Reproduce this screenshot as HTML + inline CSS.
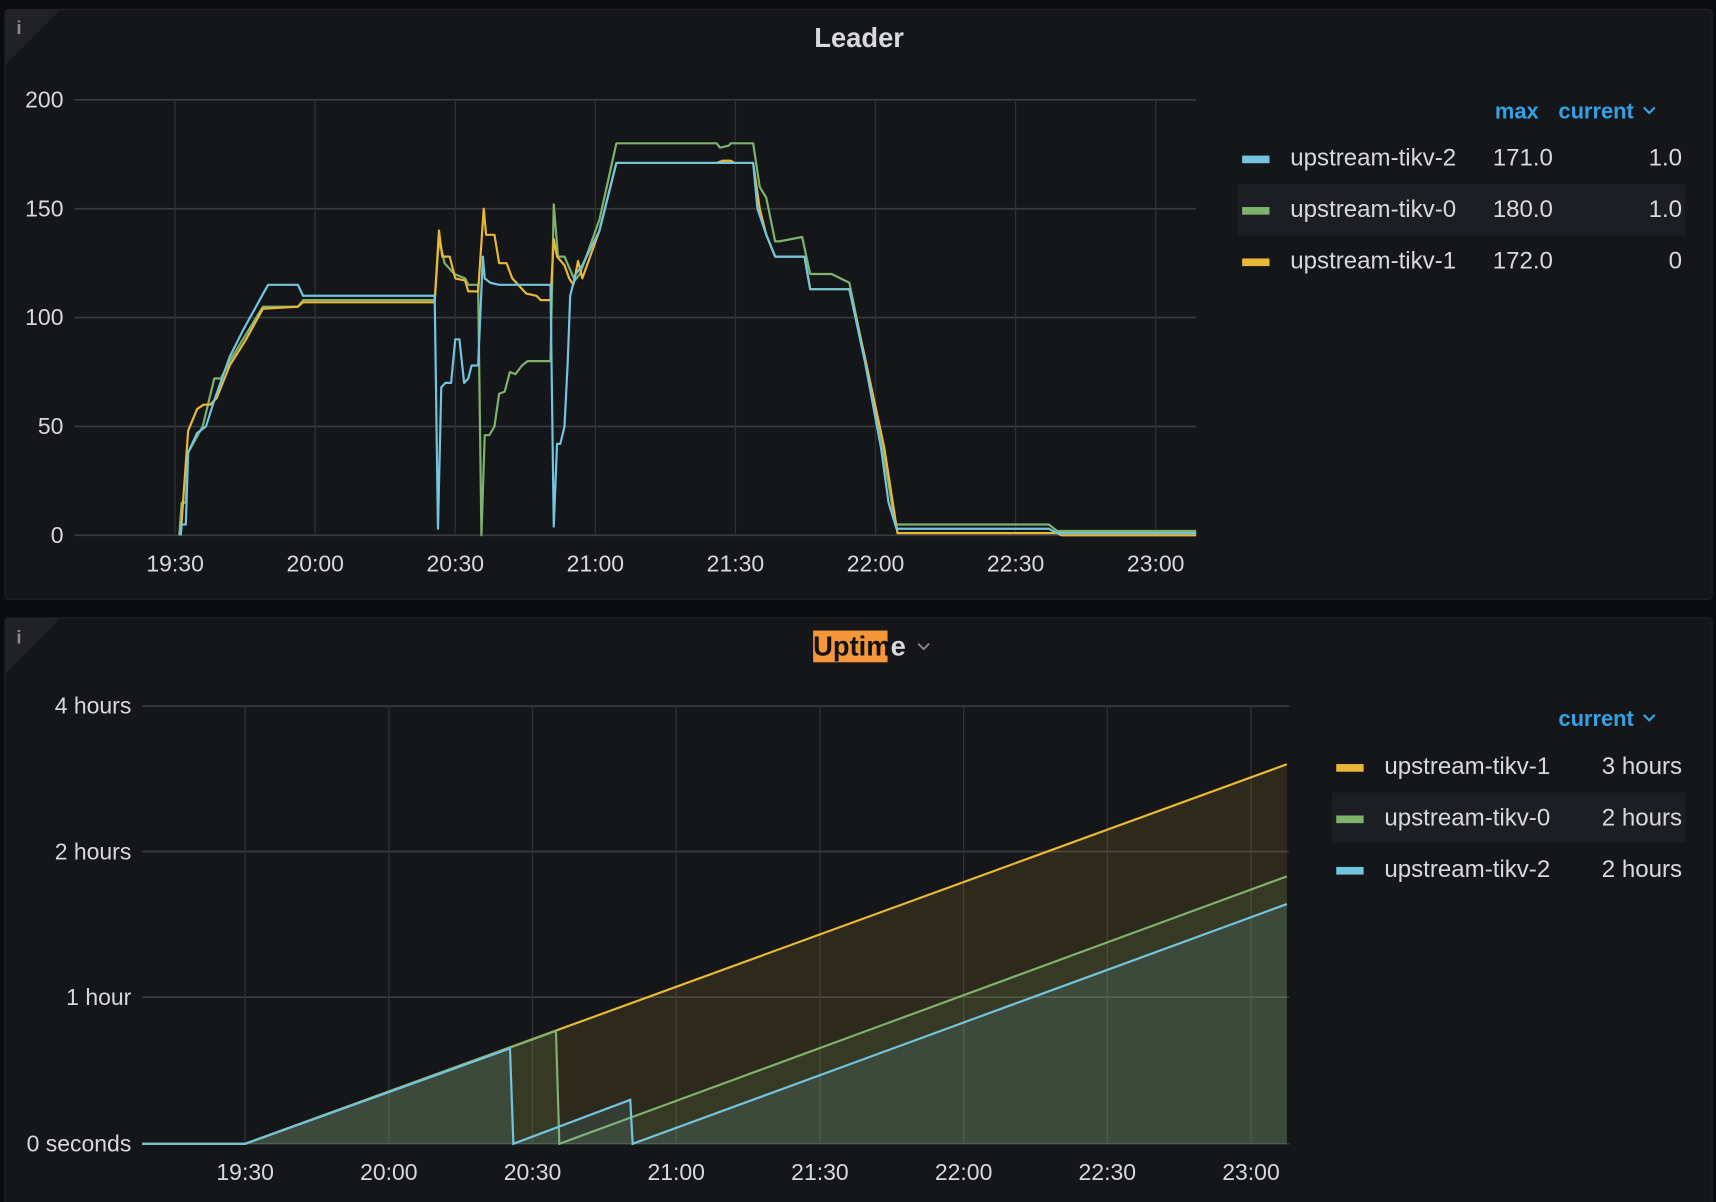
<!DOCTYPE html>
<html><head><meta charset="utf-8">
<style>
html,body{margin:0;padding:0;background:#0b0c0e;}
svg{display:block;font-family:"Liberation Sans",sans-serif;}
</style></head>
<body>
<svg id="root" width="1716" height="1202" viewBox="0 0 1568 1098">
  <rect x="0" y="0" width="1568" height="1098" fill="#0b0c0e"/>
  <g>
    <rect x="4.5" y="8.5" width="1560" height="539" rx="3" fill="#141619" stroke="#202226"/>
    <path d="M5 9 L55 9 L5 59 Z" fill="#202226"/>
    <text x="15" y="31" fill="#8e8e8e" font-size="17" font-weight="bold">i</text>
    <text x="785" y="43" fill="#d8d9da" font-size="25" font-weight="bold" text-anchor="middle">Leader</text>
    <g id="g1grid"></g>
    <g id="g1lines"></g>
    <g>
      <text x="1406" y="108" fill="#33a2e5" font-size="20" font-weight="bold" text-anchor="end">max</text>
      <text x="1424" y="108" fill="#33a2e5" font-size="20" font-weight="bold">current</text>
      <path d="M1502 98 l5 5 l5 -5" stroke="#33a2e5" stroke-width="2" fill="none"/>
      <rect x="1131" y="168" width="409" height="47" fill="#1c1e23"/>
      <g>
        <rect x="1135" y="142" width="25" height="7" fill="#73c4df"/>
        <text x="1179" y="151" fill="#d8d9da" font-size="22">upstream-tikv-2</text>
        <text x="1419" y="151" fill="#d8d9da" font-size="22" text-anchor="end">171.0</text>
        <text x="1537" y="151" fill="#d8d9da" font-size="22" text-anchor="end">1.0</text>
      </g>
      <g>
        <rect x="1135" y="189" width="25" height="7" fill="#7eb26d"/>
        <text x="1179" y="198" fill="#d8d9da" font-size="22">upstream-tikv-0</text>
        <text x="1419" y="198" fill="#d8d9da" font-size="22" text-anchor="end">180.0</text>
        <text x="1537" y="198" fill="#d8d9da" font-size="22" text-anchor="end">1.0</text>
      </g>
      <g>
        <rect x="1135" y="236" width="25" height="7" fill="#eab839"/>
        <text x="1179" y="245" fill="#d8d9da" font-size="22">upstream-tikv-1</text>
        <text x="1419" y="245" fill="#d8d9da" font-size="22" text-anchor="end">172.0</text>
        <text x="1537" y="245" fill="#d8d9da" font-size="22" text-anchor="end">0</text>
      </g>
    </g>
  </g>
  <g>
    <rect x="4.5" y="564.5" width="1560" height="540" rx="3" fill="#141619" stroke="#202226"/>
    <path d="M5 565 L55 565 L5 615 Z" fill="#202226"/>
    <text x="15" y="588" fill="#8e8e8e" font-size="17" font-weight="bold">i</text>
    <rect x="743" y="576" width="68" height="29" fill="#f5963a"/>
    <text x="743" y="599" fill="#111" font-size="25" font-weight="bold">Uptim<tspan fill="#d8d9da">e</tspan></text>
    <path d="M839 588 l5 5 l5 -5" stroke="#8e8e8e" stroke-width="1.6" fill="none"/>
    <g id="g2grid"></g>
    <g id="g2lines"></g>
    <g>
      <text x="1424" y="663" fill="#33a2e5" font-size="20" font-weight="bold">current</text>
      <path d="M1502 653 l5 5 l5 -5" stroke="#33a2e5" stroke-width="2" fill="none"/>
      <rect x="1217" y="724" width="323" height="46" fill="#1c1e23"/>
      <g>
        <rect x="1221" y="698" width="25" height="7" fill="#eab839"/>
        <text x="1265" y="707" fill="#d8d9da" font-size="22">upstream-tikv-1</text>
        <text x="1537" y="707" fill="#d8d9da" font-size="22" text-anchor="end">3 hours</text>
      </g>
      <g>
        <rect x="1221" y="745" width="25" height="7" fill="#7eb26d"/>
        <text x="1265" y="754" fill="#d8d9da" font-size="22">upstream-tikv-0</text>
        <text x="1537" y="754" fill="#d8d9da" font-size="22" text-anchor="end">2 hours</text>
      </g>
      <g>
        <rect x="1221" y="792" width="25" height="7" fill="#73c4df"/>
        <text x="1265" y="801" fill="#d8d9da" font-size="22">upstream-tikv-2</text>
        <text x="1537" y="801" fill="#d8d9da" font-size="22" text-anchor="end">2 hours</text>
      </g>
    </g>
  </g>
</svg>
<script>
const timeTickLabels = ["19:30","20:00","20:30","21:00","21:30","22:00","22:30","23:00"];
const timeTickMinutes = [0,30,60,90,120,150,180,210];
const leaderYTicks = [0,50,100,150,200];
const tikv2Times = [1.2,1.4,2.3,2.8,4.7,6.6,8.4,11.7,14.5,19.9,26.3,27.4,55.6,56.3,57.0,57.9,59.1,60.0,60.9,61.9,62.8,63.5,64.9,65.9,66.3,67.5,69.4,80.4,81.1,81.8,82.5,83.4,84.1,84.6,85.8,87.2,90.9,94.5,123.8,124.7,126.6,128.5,134.8,136.0,144.4,147.7,151.2,152.8,154.5,187.1,188.9,218.7];
const tikv2Values = [0,5,5,38,47,50,62,82,94,115,115,110,110,3,68,70,70,90,90,70,72,78,78,128,118,116,115,115,4,42,42,50,80,110,120,124,140,171,171,150,138,128,128,113,113,80,40,15,3,3,1,1];
const tikv0Times = [0.9,1.4,2.3,2.8,5.9,8.4,9.8,11.7,18.8,26.3,27.4,55.6,56.3,56.7,57.7,59.8,62.1,62.8,64.9,65.6,66.3,67.3,68.4,69.4,70.6,71.7,72.9,74.3,75.5,80.4,81.1,82.0,83.4,85.6,86.7,90.9,94.5,116.0,116.7,118.6,119.0,123.8,125.2,126.6,128.5,129.4,134.3,136.0,140.6,144.4,151.2,154.2,187.1,188.9,218.7];
const tikv0Values = [0,15,15,38,50,72,72,80,105,105,108,108,130,135,125,120,118,115,115,0,46,46,50,65,66,75,74,78,80,80,152,128,128,117,120,145,180,180,178,179,180,180,160,155,135,135,137,120,120,116,45,5,5,2,2];
const tikv1Times = [1.2,2.8,4.7,6.1,7.5,8.9,11.7,15.2,18.8,26.3,27.4,55.6,56.5,57.2,58.8,60.0,62.1,62.8,64.9,66.1,66.6,68.4,69.4,71.0,72.2,75.2,77.4,78.3,80.4,81.1,81.8,83.4,84.4,85.3,86.3,87.2,90.9,94.5,116.0,117.2,119.0,119.8,123.8,125.2,126.6,128.5,134.8,136.0,144.4,147.7,151.9,154.7,188.9,189.9,218.7];
const tikv1Values = [0,48,58,60,60,63,78,90,104,105,107,107,140,128,128,118,117,112,112,150,138,138,125,125,118,111,110,108,108,136,128,124,118,115,126,118,140,171,171,172,172,171,171,150,138,128,128,113,113,82,40,1,1,0,0];

const uptimeYTickLabels = ["0 seconds","1 hour","2 hours","4 hours"];
const uptimeYTickHours = [0,1,2,4];
const up1Times = [-21.5,0,217.5];
const up1Hours = [0,0,3.2];
const up0Times = [-21.5,0,64.9,65.6,217.5];
const up0Hours = [0,0,0.77,0,1.83];
const up2Times = [-21.5,0,55.3,56.0,80.4,80.9,217.5];
const up2Hours = [0,0,0.65,0,0.30,0,1.64];

const NS = "http://www.w3.org/2000/svg";
function mk(tag, attrs, parent){ const e=document.createElementNS(NS,tag); for(const k in attrs) e.setAttribute(k,attrs[k]); parent.appendChild(e); return e; }

const L = {x0:68, x1:1093, y0:489, y1:91};
function lx(m){ return 160 + m*128/30; }
function ly(v){ return L.y0 - v*(L.y0-L.y1)/200; }
const g1g = document.getElementById('g1grid');
leaderYTicks.forEach(v=>{
  const ln = mk('line',{x1:L.x0,x2:L.x1,y1:ly(v),y2:ly(v),stroke:'#3a3c40','stroke-width':1.5},g1g);
  
  
  const t = mk('text',{x:58,y:ly(v)+7,fill:'#d8d9da','font-size':21,'text-anchor':'end'},g1g);
  t.textContent = v;
  
  
});
timeTickMinutes.forEach((m,i)=>{
  const ln = mk('line',{x1:lx(m),x2:lx(m),y1:L.y1,y2:L.y0,stroke:'#2f3135','stroke-width':1.2},g1g);
  
  
  const t = mk('text',{x:lx(m),y:522,fill:'#d8d9da','font-size':21,'text-anchor':'middle'},g1g);
  t.textContent = timeTickLabels[i];
  
  
});
const g1l = document.getElementById('g1lines');
function leaderLine(ts, vs, color, name){
  const d = ts.map((t,i)=>(i?'L':'M')+lx(t).toFixed(1)+' '+ly(vs[i]).toFixed(1)).join(' ');
  const p = mk('path',{d:d,fill:'none',stroke:color,'stroke-width':2,'stroke-linejoin':'round'},g1l);
  
  
}
leaderLine(tikv0Times,tikv0Values,'#7eb26d','leader-line-tikv-0');
leaderLine(tikv1Times,tikv1Values,'#eab839','leader-line-tikv-1');
leaderLine(tikv2Times,tikv2Values,'#73c4df','leader-line-tikv-2');

const U = {x0:130, x1:1178};
const uTickPx = [1045,911,778,645];
function ux(m){ return 224 + m*131.3/30; }
function uy(h){
  for(let i=0;i<uptimeYTickHours.length-1;i++){
    const a=uptimeYTickHours[i], b=uptimeYTickHours[i+1];
    if(h<=b || i===uptimeYTickHours.length-2) return uTickPx[i] + (h-a)/(b-a)*(uTickPx[i+1]-uTickPx[i]);
  }
}
const g2g = document.getElementById('g2grid');
uptimeYTickHours.forEach((h,i)=>{
  const ln = mk('line',{x1:U.x0,x2:U.x1,y1:uy(h),y2:uy(h),stroke:'#3a3c40','stroke-width':1.5},g2g);
  
  
  const t = mk('text',{x:120,y:uy(h)+7,fill:'#d8d9da','font-size':21,'text-anchor':'end'},g2g);
  t.textContent = uptimeYTickLabels[i];
  
  
});
timeTickMinutes.forEach((m,i)=>{
  const ln = mk('line',{x1:ux(m),x2:ux(m),y1:645,y2:1045,stroke:'#2f3135','stroke-width':1.2},g2g);
  
  
  const t = mk('text',{x:ux(m),y:1078,fill:'#d8d9da','font-size':21,'text-anchor':'middle'},g2g);
  t.textContent = timeTickLabels[i];
  
  
});
const g2l = document.getElementById('g2lines');
function uptimeSeries(ts, hs, color, name){
  const pts = ts.map((t,i)=>ux(t).toFixed(1)+' '+uy(hs[i]).toFixed(1));
  const area = mk('path',{d:'M'+ux(ts[0])+' '+uy(0)+' L'+pts.join(' L')+' L'+ux(ts[ts.length-1])+' '+uy(0)+' Z',fill:color,'fill-opacity':0.12,stroke:'none'},g2l);
  
  
  const p = mk('path',{d:'M'+pts.join(' L'),fill:'none',stroke:color,'stroke-width':2},g2l);
  
  
}
uptimeSeries(up1Times,up1Hours,'#eab839','uptime-line-tikv-1');
uptimeSeries(up0Times,up0Hours,'#7eb26d','uptime-line-tikv-0');
uptimeSeries(up2Times,up2Hours,'#73c4df','uptime-line-tikv-2');
</script>
</body></html>
